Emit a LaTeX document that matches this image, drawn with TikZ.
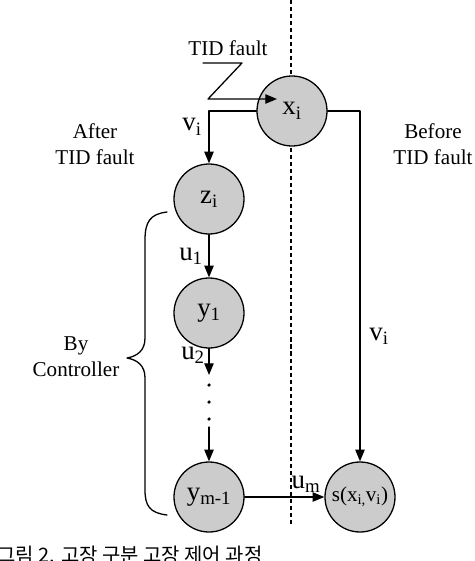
\documentclass[tikz,border=0pt]{standalone}
\usepackage{fontspec}
\setmainfont{Liberation Serif}
\newfontfamily\krfont{Noto Sans CJK KR}
\usepackage{tikz}
\usetikzlibrary{arrows,arrows.meta}

\tikzset{
  state/.style={circle,draw,line width=1.1pt,fill=black!20,minimum size=2.1cm,inner sep=0pt,
    font=\fontsize{23}{26}\selectfont},
  lbl/.style={inner sep=0pt},
  sym/.style={inner sep=0pt,font=\fontsize{23}{26}\selectfont},
  every node/.style={font=\fontsize{18}{22}\selectfont}
}

\begin{document}
\begin{tikzpicture}[line cap=round,line join=round,>={Triangle[length=10pt,width=8pt]},x=0.03cm,y=-0.03cm,line width=1.1pt]
\useasboundingbox (0,0) rectangle (474,561);
\clip (0,0) rectangle (474,561);
% fault boundary
\draw [dash pattern=on 3.5pt off 2.5pt,line cap=butt,line width=0.9pt] (291,0) -- (291,525);
% states
\node[state] (x) at (292,111) {x\textsubscript{i}};
\node[state] (z) at (209,199) {z\textsubscript{i}};
\node[state] (y1) at (209,313) {y\textsubscript{1}};
\node[state] (ym) at (209,497) {y\textsubscript{m-1}};
\node[state,font=\fontsize{18}{22}\selectfont] (s) at (360,497) {s(x\textsubscript{i,}v\textsubscript{i})};
% fault strike
\coordinate (f1) at (203,63);
\coordinate (f2) at (242,63);
\coordinate (f3) at (208,99);
\coordinate (f4) at (277,99);
\draw [->] (f1) -- (f2) -- (f3) -- (f4);
\node[lbl] (fault) at (228,48) {TID fault};
% transitions
\draw [->] (x.west) -| (z.north);
\draw [->] (x.east) -| (s.north);
\draw [->] (z) -- (y1);
\coordinate (d0) at (209,375);
\coordinate (d1) at (209,427);
\draw [->] (y1) -- (d0);
\fill (209,385) circle (1.5pt);
\fill (209,402) circle (1.5pt);
\fill (209,419) circle (1.5pt);
\draw [->] (d1) -- (ym);
\draw [->] (ym) -- (s);
\node[sym] (vl) at (192,127) {v\textsubscript{i}};
\node[sym] (vr) at (379,336) {v\textsubscript{i}};
\node[sym] (u1) at (191,256) {u\textsubscript{1}};
\node[sym] (u2) at (193,355) {u\textsubscript{2}};
\node[sym] (um) at (306,484) {u\textsubscript{m}};
% sides
\node[lbl,align=center] (after) at (95,144) {After\\TID fault};
\node[lbl,align=center] (before) at (433,144) {Before\\TID fault};
% controller brace
\draw (167,212) .. controls (150,214) and (145,222) .. (145,240) -- (145,338)
  .. controls (145,350) and (138,356) .. (127,358)
  .. controls (138,360) and (145,366) .. (145,378) -- (145,490)
  .. controls (145,506) and (150,513) .. (167,515);
\node[lbl,align=center] (ctrl) at (76,357) {By\\Controller};
% caption
\node[lbl,anchor=north west,font=\fontsize{17}{20}\selectfont] (cap) at (-3,545) {\krfont 그림 2. 고장 구분 고장 제어 과정};
\end{tikzpicture}
\end{document}
